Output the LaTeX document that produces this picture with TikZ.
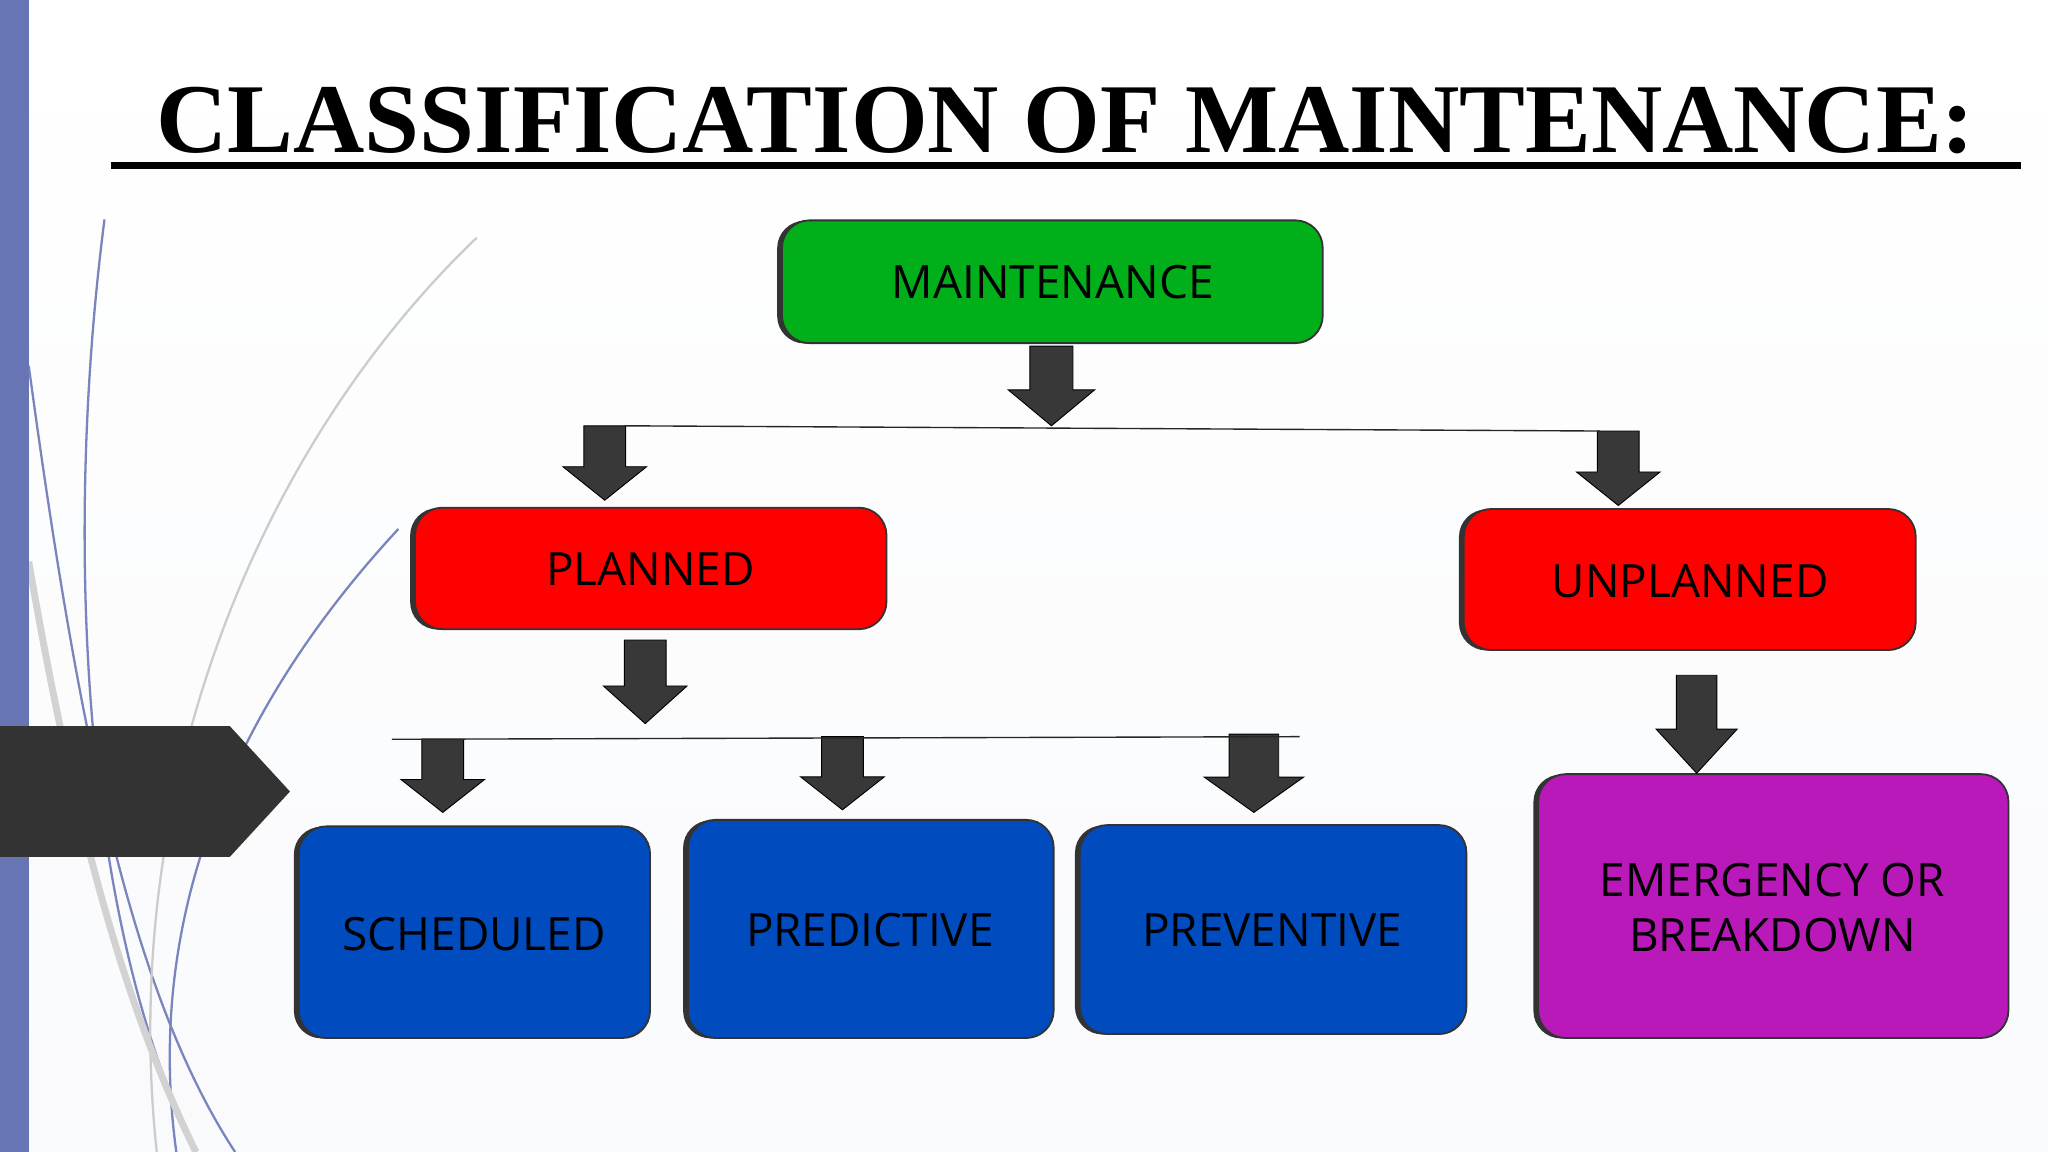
\documentclass[tikz,border=0pt]{standalone}
\usepackage{fontspec}
\setmainfont{Liberation Serif}
\newfontfamily\boxfont{Open Sans}
\begin{document}
\begin{tikzpicture}[x=0.02cm,y=-0.02cm,
  bx/.style={draw=black!80,line width=0.8pt,rounded corners=12pt,inner sep=0pt,font=\boxfont\fontsize{20}{24}\selectfont,align=center,text=black},
  arr/.style={fill=black!78,draw=black,line width=0.4pt},
  thin/.style={draw=black!85,line width=0.6pt}]
\useasboundingbox (0,0) rectangle (1568,882);
\shade[top color=white,bottom color=cyan!25!blue!15!white!85!black!8] (0,0) rectangle (1568,882);
\fill[white,opacity=0.5] (0,0) rectangle (1568,150);
% decorative curves
\draw[color=black!45!cyan!40!blue!60,line width=1pt] (80,168) .. controls (50,400) and (60,700) .. (150,882);
\draw[color=black!45!cyan!40!blue!60,line width=1pt] (22,280) .. controls (60,560) and (100,760) .. (180,882);
\draw[color=black!45!cyan!40!blue!60,line width=1pt] (305,405) .. controls (180,540) and (110,700) .. (135,882);
\draw[color=gray!40,line width=1pt] (365,182) .. controls (200,340) and (90,600) .. (120,882);
\draw[color=gray!35,line width=3pt] (22,430) .. controls (60,650) and (100,780) .. (150,882);
\fill[black!45!cyan!40!blue!70] (0,0) rectangle (22,882);
\fill[black!80] (0,556) -- (176,556) -- (222,606) -- (176,656) -- (0,656) -- cycle;
% title
\node[font=\bfseries\fontsize{43}{46}\selectfont,anchor=base] (title) at (816,117) {CLASSIFICATION OF MAINTENANCE:};
\draw[line width=3pt] (85,127) -- (1547,127);
% boxes
\newcommand\bbox[6]{%
  \fill[black!80,rounded corners=12pt] (#2-3,#3+1) rectangle (#4-2,#5+1);
  \node[bx,fill=#6,minimum width={(#4-#2)*0.02cm},minimum height={(#5-#3)*0.02cm},anchor=north west] (#1) at (#2,#3) {\strut};}
\bbox{m}{598}{168}{1012}{262}{green!65!black!90!cyan}
\bbox{p}{317}{388}{678}{481}{red}
\bbox{u}{1120}{389}{1466}{497}{red}
\bbox{s}{228}{632}{497}{794}{blue!60!cyan!75!black}
\bbox{pd}{526}{627}{806}{794}{blue!60!cyan!75!black}
\bbox{pv}{826}{631}{1122}{791}{blue!60!cyan!75!black}
\bbox{e}{1177}{592}{1537}{794}{violet!60!magenta!90!white}
\tikzset{lab/.style={font=\boxfont\fontsize{20}{24}\selectfont,align=center}}
\node[lab] at (806,216) {MAINTENANCE};
\node[lab] at (498,436) {PLANNED};
\node[lab] at (1294,445) {UNPLANNED};
\node[lab] at (363,715) {SCHEDULED};
\node[lab] at (666,712) {PREDICTIVE};
\node[lab] at (974,712) {PREVENTIVE};
\node[lab,font=\boxfont\fontsize{20}{24}\selectfont] at (1357,695) {EMERGENCY OR\\BREAKDOWN};
% block arrows
\newcommand\darr[4]{% cx, top, bottom, halfwidth
  \path[arr] ({#1-#4*0.5},#2) -- ({#1+#4*0.5},#2) -- ({#1+#4*0.5},{#3-(#3-#2)*0.45}) -- ({#1+#4},{#3-(#3-#2)*0.45}) -- (#1,#3) -- ({#1-#4},{#3-(#3-#2)*0.45}) -- ({#1-#4*0.5},{#3-(#3-#2)*0.45}) -- cycle;}
\darr{805}{265}{326}{33}
\darr{463}{326}{383}{32}
\darr{1239}{330}{387}{32}
\darr{494}{490}{554}{32}
\darr{339}{566}{622}{32}
\darr{645}{564}{620}{32}
\darr{960}{562}{622}{38}
\darr{1299}{517}{592}{31}
\draw[thin] (478,326) -- (1225,330);
\draw[thin] (300,566) -- (995,564);
\end{tikzpicture}
\end{document}
